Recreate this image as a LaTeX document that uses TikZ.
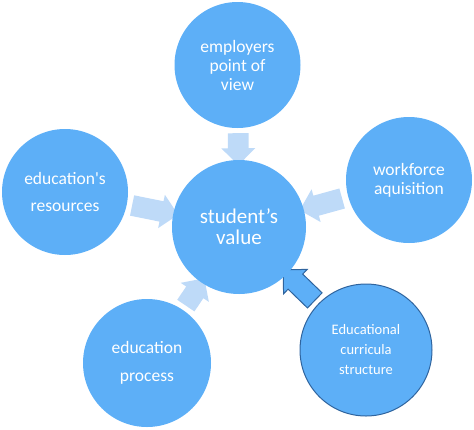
\documentclass[tikz,border=0pt]{standalone}
\usepackage{fontspec}
\setmainfont{Carlito}
\usetikzlibrary{shapes.arrows, backgrounds}
\definecolor{bubbleblue}{RGB}{93,175,247}
\definecolor{flowlight}{RGB}{190,218,248}
\definecolor{edgeblue}{RGB}{47,100,158}

\begin{document}
\begin{tikzpicture}[x=1pt, y=-1pt]

		\useasboundingbox (0,0) rectangle (474,429);
		\tikzstyle{bubble}=[circle, fill=bubbleblue, text=white, inner sep=0pt, align=center, minimum size=126pt, font=\fontsize{17.5}{19}\selectfont]
		\tikzstyle{flow}=[single arrow, fill=flowlight, inner xsep=0pt, inner ysep=10pt, minimum width=34pt, single arrow head extend=6.5pt, single arrow tip angle=90, sloped, allow upside down]
		\node[bubble, minimum size=134pt, font=\fontsize{21}{21}\selectfont] (val) at (239,227) {student’s\\value};
		\node[bubble] (emp) at (237.5,65) {employers\\point of\\view};
		\node[bubble, font=\fontsize{17.5}{27}\selectfont] (res) at (65,192) {education\textquotesingle s\\resources};
		\node[bubble] (work) at (409,180) {workforce\\aquisition};
		\node[bubble, minimum size=128pt, font=\fontsize{17.5}{28}\selectfont] (proc) at (147,363) {education\\process};
		\node[bubble, minimum size=132pt, draw=edgeblue, line width=1pt, font=\fontsize{14.5}{20}\selectfont] (curr) at (366,350) {Educational\\curricula\\structure};
		% arrows into the centre
		\begin{scope}[on background layer]
		\path (emp) -- (val) node[flow, midway, minimum height=32pt] {};
		\path (res) -- (val) node[flow, midway, minimum height=47pt] {};
		\path (work) -- (val) node[flow, midway, minimum height=44pt] {};
		\path (proc) -- (val) node[flow, midway, minimum height=33pt] {};
		\path (curr) -- (val) node[flow, midway, minimum height=44pt, fill=bubbleblue, draw=edgeblue, line width=1pt] {};
		\end{scope}

\end{tikzpicture}
\end{document}
